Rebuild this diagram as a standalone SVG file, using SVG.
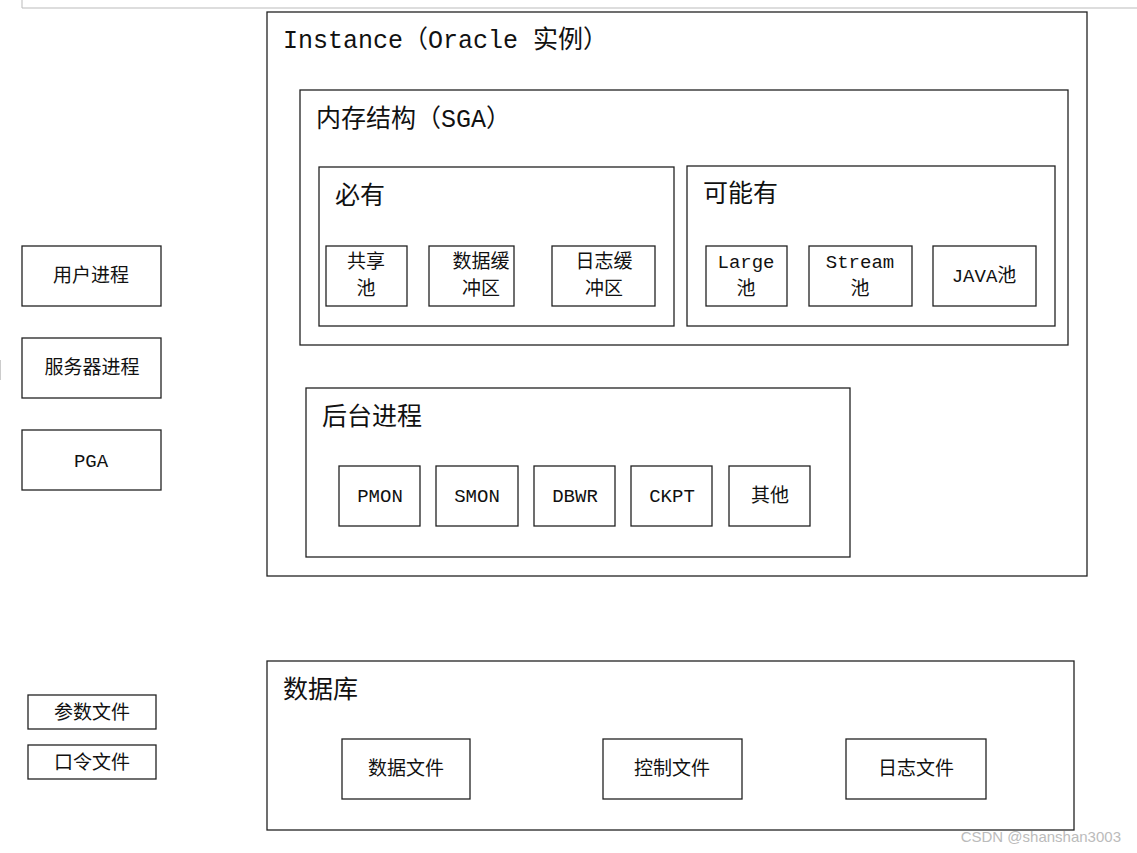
<svg xmlns="http://www.w3.org/2000/svg" width="1137" height="853" viewBox="0 0 1137 853">
<style>
.b{fill:#fff;stroke:#222;stroke-width:1.3}
.t{font-family:"Liberation Mono","Noto Sans CJK SC",monospace;fill:#111}
.s{font-size:19px;text-anchor:middle}
.h{font-size:25px}
</style>
<rect width="1137" height="853" fill="#fff"/>
<path d="M22 0V8H1137" fill="none" stroke="#bbb"/>
<line x1="0" y1="360" x2="0" y2="380" stroke="#999"/>
<g id="instance"><rect class="b" x="267" y="12" width="820" height="564"/><text class="t h" x="283" y="48">Instance（Oracle 实例）</text></g>
<g id="sga"><rect class="b" x="300" y="90" width="768" height="255"/><text class="t h" x="316" y="127">内存结构（SGA）</text></g>
<g id="must"><rect class="b" x="319" y="167" width="355" height="159"/><text class="t h" x="335" y="204">必有</text></g>
<g id="maybe"><rect class="b" x="687" y="166" width="368" height="160"/><text class="t h" x="703" y="202">可能有</text></g>
<g id="shared"><rect class="b" x="326" y="246" width="81" height="60"/><text class="t s" x="366" y="268">共享</text><text class="t s" x="366" y="295">池</text></g>
<g id="dbbuf"><rect class="b" x="429" y="246" width="85" height="60"/><text class="t s" x="481" y="268">数据缓</text><text class="t s" x="481" y="295">冲区</text></g>
<g id="logbuf"><rect class="b" x="552" y="246" width="103" height="60"/><text class="t s" x="604" y="268">日志缓</text><text class="t s" x="604" y="295">冲区</text></g>
<g id="large"><rect class="b" x="706" y="246" width="81" height="60"/><text class="t s" x="746" y="268">Large</text><text class="t s" x="746" y="295">池</text></g>
<g id="stream"><rect class="b" x="809" y="246" width="103" height="60"/><text class="t s" x="860" y="268">Stream</text><text class="t s" x="860" y="295">池</text></g>
<g id="java"><rect class="b" x="933" y="246" width="103" height="60"/><text class="t s" x="984" y="282">JAVA池</text></g>
<g id="bg"><rect class="b" x="306" y="388" width="544" height="169"/><text class="t h" x="322" y="425">后台进程</text></g>
<g id="pmon"><rect class="b" x="339" y="466" width="81" height="60"/><text class="t s" x="380" y="502">PMON</text></g>
<g id="smon"><rect class="b" x="436" y="466" width="82" height="60"/><text class="t s" x="477" y="502">SMON</text></g>
<g id="dbwr"><rect class="b" x="534" y="466" width="81" height="60"/><text class="t s" x="575" y="502">DBWR</text></g>
<g id="ckpt"><rect class="b" x="631" y="466" width="81" height="60"/><text class="t s" x="672" y="502">CKPT</text></g>
<g id="other"><rect class="b" x="729" y="466" width="81" height="60"/><text class="t s" x="770" y="502">其他</text></g>
<g id="user"><rect class="b" x="22" y="246" width="139" height="60"/><text class="t s" x="91" y="282">用户进程</text></g>
<g id="server"><rect class="b" x="22" y="338" width="139" height="60"/><text class="t s" x="92" y="374">服务器进程</text></g>
<g id="pga"><rect class="b" x="22" y="430" width="139" height="60"/><text class="t s" x="91" y="467">PGA</text></g>
<g id="param"><rect class="b" x="28" y="695" width="128" height="34"/><text class="t s" x="92" y="719">参数文件</text></g>
<g id="pwd"><rect class="b" x="28" y="745" width="128" height="34"/><text class="t s" x="92" y="769">口令文件</text></g>
<g id="db"><rect class="b" x="267" y="661" width="807" height="169"/><text class="t h" x="283" y="698">数据库</text></g>
<g id="datafile"><rect class="b" x="342" y="739" width="128" height="60"/><text class="t s" x="406" y="775">数据文件</text></g>
<g id="ctlfile"><rect class="b" x="603" y="739" width="139" height="60"/><text class="t s" x="672" y="775">控制文件</text></g>
<g id="logfile"><rect class="b" x="846" y="739" width="140" height="60"/><text class="t s" x="916" y="775">日志文件</text></g>
<g id="connectors"></g>
<text x="1121" y="842" text-anchor="end" font-family="Liberation Sans,sans-serif" font-size="15" fill="#bbb">CSDN @shanshan3003</text>
</svg>
